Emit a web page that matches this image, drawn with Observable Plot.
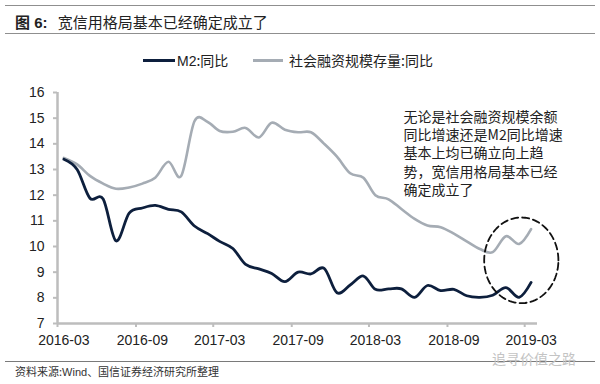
<!DOCTYPE html>
<html>
<head>
<meta charset="utf-8">
<script src="https://cdn.jsdelivr.net/npm/d3@7"></script>
<script src="https://cdn.jsdelivr.net/npm/@observablehq/plot@0.6"></script>
<style>
  html, body { margin: 0; padding: 0; background: #fff; }
  #wrap { position: relative; width: 600px; height: 384px; overflow: hidden; font-family: "Liberation Sans", "Noto Sans CJK SC", sans-serif; color: #222; }
  .hline { position: absolute; left: 5px; width: 590px; height: 0; border-top: 1.6px solid #8f8f8f; }
  .abs { position: absolute; white-space: nowrap; }
  .cjk { font-family: "Noto Sans CJK SC", sans-serif; }
  #chart { position: absolute; left: 0; top: 80px; }
</style>
</head>
<body>
<div id="wrap">
  <div class="hline" style="top:5px"></div>
  <div class="abs" style="left:15px; top:12px; font-size:15px; line-height:19px;">
    <span class="cjk" style="font-weight:bold">图</span> <b>6:</b> <span class="cjk" style="margin-left:6px">宽信用格局基本已经确定成立了</span>
  </div>
  <div class="hline" style="top:33px"></div>

  <div class="abs" style="left:143px; top:59px; width:32px; height:3px; background:#0d1f3d;"></div>
  <div class="abs" style="left:177px; top:51px; font-size:14px; line-height:18px;">M2<span class="cjk">:同比</span></div>
  <div class="abs" style="left:253px; top:59px; width:30px; height:3px; background:#a5acb4;"></div>
  <div class="abs cjk" style="left:289px; top:51px; font-size:14px; line-height:18px;">社会融资规模存量:同比</div>

  <div id="chart"></div>

  <div class="hline" style="top:361px; border-top-color:#7a7a7a"></div>
  <div class="abs cjk" style="left:492px; top:349px; font-size:14px; line-height:18px; color:#c4c4c4;">追寻价值之路</div>
  <div class="abs" style="left:15px; top:364px; font-size:11px; line-height:14px; color:#333;"><span class="cjk">资料来源:</span>Wind<span class="cjk">、国信证券经济研究所整理</span></div>
</div>
<script>
// ---- data ----
const months = ["2016-03","2016-04","2016-05","2016-06","2016-07","2016-08","2016-09","2016-10","2016-11","2016-12",
  "2017-01","2017-02","2017-03","2017-04","2017-05","2017-06","2017-07","2017-08","2017-09","2017-10","2017-11","2017-12",
  "2018-01","2018-02","2018-03","2018-04","2018-05","2018-06","2018-07","2018-08","2018-09","2018-10","2018-11","2018-12",
  "2019-01","2019-02","2019-03"];
const m2 = [13.4, 13.0, 11.88, 11.85, 10.22, 11.3, 11.5, 11.6, 11.45, 11.35,
  10.8, 10.5, 10.2, 9.92, 9.3, 9.13, 8.95, 8.63, 9.0, 8.93, 9.15, 8.2,
  8.5, 8.85, 8.33, 8.35, 8.35, 8.02, 8.48, 8.28, 8.33, 8.08, 8.02, 8.1,
  8.4, 8.02, 8.6];
const tsf = [13.45, 13.2, 12.75, 12.45, 12.25, 12.3, 12.45, 12.68, 13.3, 12.75,
  14.88, 14.85, 14.5, 14.47, 14.62, 14.25, 14.82, 14.55, 14.45, 14.45, 14.0, 13.5,
  12.85, 12.68, 12.0, 11.84, 11.46, 11.08, 10.82, 10.75, 10.5, 10.2, 9.9, 9.78,
  10.4, 10.1, 10.68];
const xTickLabels = ["2016-03","2016-09","2017-03","2017-09","2018-03","2018-09","2019-03"];
const yTicks = [7, 8, 9, 10, 11, 12, 13, 14, 15, 16];
const note = "无论是社会融资规模余额\n同比增速还是M2同比增速\n基本上均已确立向上趋\n势，宽信用格局基本已经\n确定成立了";

// ---- build ----
const parse = d3.utcParse("%Y-%m");
const rows = months.map((m, i) => ({date: parse(m), m2: m2[i], tsf: tsf[i]}));
const x0 = d3.utcDay.offset(parse(months[0]), -15);
const x1 = d3.utcDay.offset(parse(months[months.length - 1]), 15);
const labelDates = xTickLabels.map(parse);
const tickMarkDates = labelDates.map(d => d3.utcDay.offset(d, -15));

// annotation ellipse (dashed) around the latest rebound
const eCx = d3.utcDay.offset(parse("2019-02"), 5), eCy = 9.46, eRxDays = 87, eRy = 1.67;
const ellipse = d3.range(0, 361, 4).map(a => ({
  date: new Date(+eCx + eRxDays * 864e5 * Math.cos(a * Math.PI / 180)),
  v: eCy + eRy * Math.sin(a * Math.PI / 180)
}));
const noteAnchor = [{date: new Date(Date.UTC(2018, 4, 6)), v: 15.37}];

const axisGray = "#bdbdbd";
const chart = Plot.plot({
  width: 600,
  height: 273,
  marginLeft: 57,
  marginRight: 63,
  marginTop: 12,
  marginBottom: 30,
  style: {fontFamily: "'Liberation Sans', 'Noto Sans CJK SC', sans-serif", fontSize: "14px", color: "#222", background: "transparent", overflow: "visible"},
  x: {type: "utc", domain: [x0, x1], axis: null},
  y: {domain: [7, 16], axis: null},
  marks: [
    // axes
    Plot.ruleY(yTicks, {x1: x0, x2: x0, insetLeft: -4, stroke: axisGray, strokeWidth: 2}),
    Plot.ruleX(tickMarkDates, {y1: 7, y2: 7, insetBottom: -4, stroke: axisGray, strokeWidth: 2}),
    Plot.ruleX([x0], {y1: 7, y2: 16, stroke: axisGray, strokeWidth: 2.5}),
    Plot.ruleY([7], {stroke: axisGray, strokeWidth: 2.5}),
    Plot.text(yTicks, {x: x0, y: d => d, text: d => String(d), textAnchor: "end", dx: -13, fill: "#222", fontSize: 14}),
    Plot.text(labelDates, {x: d => d, y: 7, text: d => d3.utcFormat("%Y-%m")(d), dy: 17, fill: "#222", fontSize: 14}),
    // series
    Plot.line(rows, {x: "date", y: "tsf", stroke: "#a5acb4", strokeWidth: 2.6, curve: "cardinal"}),
    Plot.line(rows, {x: "date", y: "m2", stroke: "#0d1f3d", strokeWidth: 2.8, curve: "cardinal"}),
    // annotations
    Plot.line(ellipse, {x: "date", y: "v", stroke: "#111", strokeWidth: 1.8, strokeDasharray: "7,4", curve: "linear"}),
    Plot.text(noteAnchor, {x: "date", y: "v", text: () => note, textAnchor: "start", lineAnchor: "top", lineHeight: 1.31, fontSize: 14, fill: "#222", fontFamily: "'Noto Sans CJK SC', sans-serif"})
  ]
});
document.getElementById("chart").appendChild(chart);
</script>
</body>
</html>
